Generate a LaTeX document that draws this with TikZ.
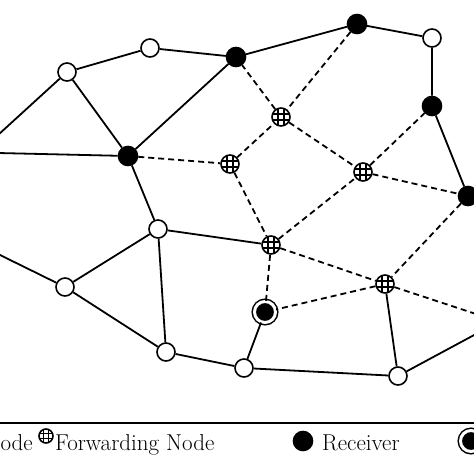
\documentclass[tikz,border=0pt]{standalone}
\usetikzlibrary{positioning}

\begin{document}
\begin{tikzpicture}[x=1pt,y=-1pt,
  link/.style={line width=1.8pt},
  flood/.style={line width=1.8pt,dash pattern=on 6pt off 4pt},
  plain/.style={draw,fill=white,circle,line width=1.6pt,inner sep=0pt,minimum size=18pt},
  recv/.style={draw,fill=black,circle,line width=1.6pt,inner sep=0pt,minimum size=19pt},
  fwd/.style={draw,fill=white,circle,line width=1.6pt,inner sep=0pt,minimum size=#1,
    path picture={
      \draw[line width=1.2pt]
      ([xshift=-0.17*#1]path picture bounding box.north) -- ([xshift=-0.17*#1]path picture bounding box.south)
      ([xshift=0.17*#1]path picture bounding box.north) -- ([xshift=0.17*#1]path picture bounding box.south)
      ([yshift=-0.17*#1]path picture bounding box.west) -- ([yshift=-0.17*#1]path picture bounding box.east)
      ([yshift=0.17*#1]path picture bounding box.west) -- ([yshift=0.17*#1]path picture bounding box.east);}},
  fwd/.default=18pt,
  src/.style={draw,fill=black,circle,double,double distance=3pt,line width=1.5pt,inner sep=0pt,minimum size=21pt},
  legtext/.style={anchor=base west,inner sep=0pt,font=\fontsize{23}{27}\selectfont}]

\clip (0,0) rectangle (474,474);
\fill[white] (0,0) rectangle (474,474);

% free ends at the border
\coordinate (wa) at (-2,135);
\coordinate (wh) at (-2,153);
\coordinate (wm) at (-2,254);
\coordinate (ep) at (476,314);
\coordinate (es) at (476,334);

% network
\node[plain] (a) at (67,72) {};
\node[plain] (b) at (150,48) {};
\node[recv] (c) at (236,57) {};
\node[recv] (d) at (357,24) {};
\node[plain] (e) at (432,38) {};
\node[recv] (f) at (432,106) {};
\node[recv] (g) at (468,196) {};
\node[recv] (h) at (128,156) {};
\node[fwd] (i) at (281,117) {};
\node[fwd] (j) at (230,164) {};
\node[fwd] (k) at (363,172) {};
\node[plain] (l) at (158,229) {};
\node[plain] (m) at (65,287) {};
\node[plain] (n) at (166,352) {};
\node[fwd] (o) at (271,245) {};
\node[fwd] (p) at (385,284) {};
\node[src] (q) at (265,312) {};
\node[plain] (r) at (244,368) {};
\node[plain] (s) at (398,376) {};

\draw[link] (wa) -- (a) -- (b) -- (c) -- (d) -- (e) -- (f) -- (g);
\draw[link] (a) -- (h) -- (c);
\draw[link] (wh) -- (h) -- (l) -- (o);
\draw[link] (wm) -- (m) -- (l) -- (n) -- (m);
\draw[link] (n) -- (r) -- (q);
\draw[link] (r) -- (s) -- (p);
\draw[link] (s) -- (es);

\draw[flood] (h) -- (j) -- (i) -- (c);
\draw[flood] (d) -- (i) -- (k) -- (f);
\draw[flood] (k) -- (g) -- (p) -- (ep);
\draw[flood] (j) -- (o) -- (k);
\draw[flood] (o) -- (p) -- (q) -- (o);

% legend
\draw[line width=1.8pt] (0,423) coordinate (lw) -- (474,423) coordinate (le);
\node[legtext,anchor=base east] (lnode) at (33,450) {ode};
\node[fwd=14pt] (lfwd) at (46,436) {};
\node[legtext] (lfwdtext) at (55,450) {Forwarding Node};
\node[recv] (lrecv) at (303,441) {};
\node[legtext] (lrecvtext) at (322,450) {Receiver};
\node[src] (lsrc) at (471,441) {};

\end{tikzpicture}
\end{document}
